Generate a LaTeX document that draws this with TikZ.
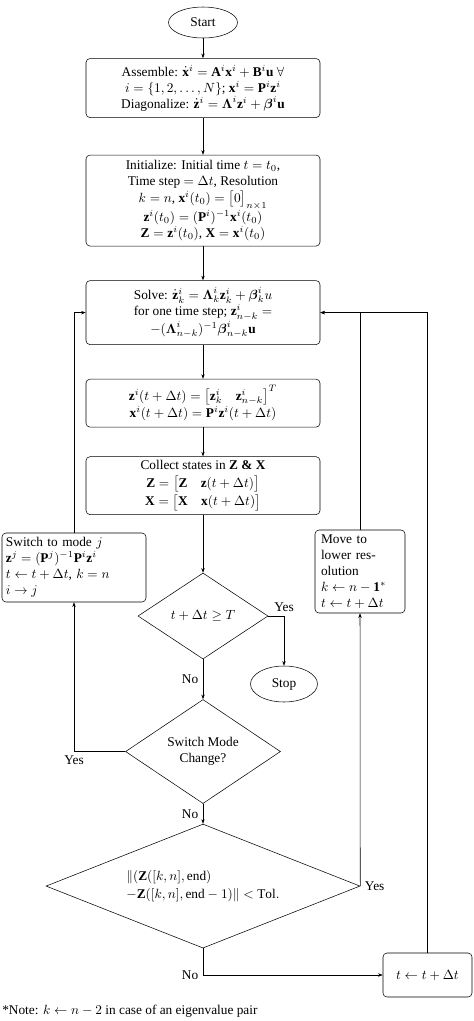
\documentclass[tikz,border=0pt]{standalone}
\usepackage{amsmath,amssymb}
\usepackage{fontspec}
\setmainfont{Liberation Serif}
\usetikzlibrary{positioning, shapes.geometric, arrows.meta}

\begin{document}
\begin{tikzpicture}[x=0.75pt, y=0.75pt, >={Stealth[length=3.5pt,width=2.5pt]},
    block/.style={draw, rounded corners=3pt, align=center, minimum width=175.5pt, inner sep=3pt},
    sidebox/.style={draw, rounded corners=3pt, align=left, inner sep=3pt},
    decide/.style={draw, diamond, align=center, inner sep=0pt},
    terminal/.style={draw, ellipse, inner sep=1pt}]
        \useasboundingbox (0,0) rectangle (474,-1021);

        \node[terminal, minimum width=51.75pt, minimum height=23.25pt] (box 0) at (203,-22.5) {Start};
        \node[block, minimum height=44.25pt, below=15pt of box 0] (box 1) {Assemble: $\dot{\mathbf{x}}^i = \mathbf{A}^i\mathbf{x}^i + \mathbf{B}^i\mathbf{u}\ \forall$\\
            $i=\{1,2,\ldots,N\}$; $\mathbf{x}^i = \mathbf{P}^i\mathbf{z}^i$\\
            Diagonalize: $\dot{\mathbf{z}}^i = \boldsymbol{\Lambda}^i\mathbf{z}^i + \boldsymbol{\beta}^i\mathbf{u}$};
        \node[block, minimum height=68.25pt, below=27.75pt of box 1] (box 2) {Initialize: Initial time $t=t_0$,\\
            Time step $=\Delta t$, Resolution\\[1pt]
            $k=n$, $\mathbf{x}^i(t_0)=\big[0\big]_{n\times 1}$\\
            $\mathbf{z}^i(t_0)=(\mathbf{P}^i)^{-1}\mathbf{x}^i(t_0)$\\
            $\mathbf{Z}=\mathbf{z}^i(t_0)$, $\mathbf{X}=\mathbf{x}^i(t_0)$};
        \node[block, minimum height=48pt, below=25.5pt of box 2] (box 3) {Solve: $\dot{\mathbf{z}}^i_k = \boldsymbol{\Lambda}^i_k\mathbf{z}^i_k + \boldsymbol{\beta}^i_k u$\\
            for one time step; $\mathbf{z}^i_{n-k} =$\\
            $-(\boldsymbol{\Lambda}^i_{n-k})^{-1}\boldsymbol{\beta}^i_{n-k}\mathbf{u}$};
        \node[block, minimum height=36pt, below=25.5pt of box 3] (box 4) {$\mathbf{z}^i(t+\Delta t)=\big[\mathbf{z}^i_k\quad\mathbf{z}^i_{n-k}\big]^T$\\[1pt]
            $\mathbf{x}^i(t+\Delta t)=\mathbf{P}^i\mathbf{z}^i(t+\Delta t)$};
        \node[block, minimum height=42pt, below=21.75pt of box 4] (box 5) {Collect states in $\mathbf{Z}$ \textbf{\&} $\mathbf{X}$\\[1pt]
            $\mathbf{Z}=\big[\mathbf{Z}\quad\mathbf{z}(t+\Delta t)\big]$\\[1pt]
            $\mathbf{X}=\big[\mathbf{X}\quad\mathbf{x}(t+\Delta t)\big]$};
        \node[decide, aspect=1.51, minimum width=97.5pt, minimum height=64.5pt] (box 6) at (203,-616) {$t+\Delta t\geq T$};
        \node[terminal, minimum width=50.25pt, minimum height=27pt] (box 7) at (284,-684) {Stop};
        \node[decide, aspect=1.49, minimum width=116.25pt, minimum height=78pt, below=30pt of box 6] (box 8) {Switch Mode\\Change?};
        \node[sidebox, text width=102pt, minimum height=51.75pt] (box 9) at (74,-567.5) {Switch to mode $j$\\
            $\mathbf{z}^j=(\mathbf{P}^j)^{-1}\mathbf{P}^i\mathbf{z}^i$\\
            $t\leftarrow t+\Delta t$, $k=n$\\
            $i\rightarrow j$};
        \node[decide, aspect=2.53, minimum width=235.5pt, minimum height=93pt, below=15pt of box 8, align=left] (box 10) {$\|(\mathbf{Z}([k,n],\mathrm{end})$\\[2pt]
            $-\mathbf{Z}([k,n],\mathrm{end}-1)\|<\mathrm{Tol.}$};
        \node[sidebox, text width=58.5pt, inner xsep=4.5pt, minimum height=62.25pt] (box 11) at (360,-571.5) {Move to\\
            lower res-\\
            olution\\
            $k\leftarrow n-\mathbf{1}^*$\\
            $t\leftarrow t+\Delta t$};
        \node[draw, rounded corners=3pt, minimum width=66.75pt, minimum height=33pt] (box 12) at (427.5,-975) {$t\leftarrow t+\Delta t$};
        \node[anchor=west, inner sep=0pt] (note) at (2,-1011) {*Note: $k\leftarrow n-2$ in case of an eigenvalue pair};

        \foreach \i/\j in {0/1,1/2,2/3,3/4,4/5,5/6}
        \draw[->] (box \i) -- (box \j);

        \draw[->] (box 6.east) -| node[pos=0.5, above] {Yes} (box 7.north);
        \draw[->] (box 6) -- node[left] {No} (box 8);
        \draw[->] (box 8.west) -| node[pos=0.5, below] {Yes} (box 9.south);
        \draw[->] (box 9.north) |- (box 3.west);
        \draw[->] (box 8) -- node[left] {No} (box 10);
        \draw[->] (box 10.east) node[right] {Yes} -- (box 11.south);
        \draw[->] (box 11.north) |- (box 3.east);
        \draw[->] (box 10.south) |- node[pos=0.5, left] {No} (box 12.west);
        \draw[->] (box 12.north) |- (box 3.east);

    \end{tikzpicture}
\end{document}
